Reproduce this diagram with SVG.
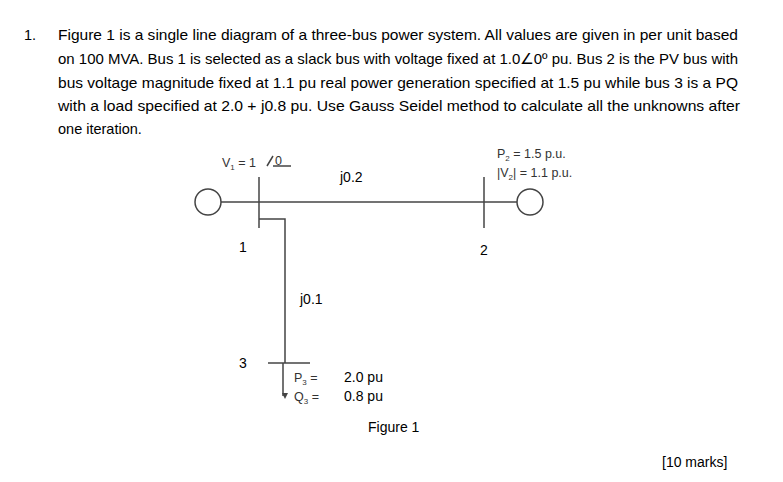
<svg xmlns="http://www.w3.org/2000/svg" width="783" height="482" viewBox="0 0 783 482">
<style>
.t{font-family:"Liberation Sans",Arial,sans-serif;font-size:14.5px;fill:#000}
.g{font-family:"Liberation Sans",Arial,sans-serif;font-size:12.5px;fill:#333}
.c{font-family:"Liberation Sans",Arial,sans-serif;font-size:14px;fill:#000}
.l{stroke:#444;stroke-width:1.5;fill:none}
</style>
<defs><marker id="a" markerWidth="6" markerHeight="6" refX="3" refY="5" orient="auto" markerUnits="userSpaceOnUse"><path d="M0,0 L6,0 L3,6z" fill="#444" transform="rotate(-90 3 3)"/></marker></defs>
<rect width="783" height="482" fill="#fff"/>
<g id="question">
<text class="t" x="24" y="40">1.</text>
<text class="t" x="58" y="40" textLength="680" lengthAdjust="spacingAndGlyphs">Figure 1 is a single line diagram of a three-bus power system. All values are given in per unit based</text>
<text class="t" x="58" y="64" textLength="680" lengthAdjust="spacingAndGlyphs">on 100 MVA. Bus 1 is selected as a slack bus with voltage fixed at 1.0∠0º pu. Bus 2 is the PV bus with</text>
<text class="t" x="58" y="88" textLength="680" lengthAdjust="spacingAndGlyphs">bus voltage magnitude fixed at 1.1 pu real power generation specified at 1.5 pu while bus 3 is a PQ</text>
<text class="t" x="58" y="111" textLength="682" lengthAdjust="spacingAndGlyphs">with a load specified at 2.0 + j0.8 pu. Use Gauss Seidel method to calculate all the unknowns after</text>
<text class="t" x="58" y="134">one iteration.</text>
</g>
<g id="connectors">
<path class="l" d="M221,202 H517"/>
<path class="l" d="M259,219 H285 V363"/>
<path class="l" d="M283,363 V396" marker-end="url(#a)"/>
</g>
<g id="gen1"><circle class="l" cx="208" cy="202" r="13"/></g>
<g id="bus1"><path class="l" d="M259,177 V228"/><text class="c" x="239" y="252">1</text>
<text class="g" x="222" y="167">V<tspan font-size="8" dy="3">1</tspan><tspan dy="-3"> = 1</tspan></text>
<path class="l" d="M267,166 L273,156 M273,166 H291" stroke-width="1"/><text class="g" x="275" y="165">0</text></g>
<g id="line12"><text class="c" x="340" y="182">j0.2</text></g>
<g id="gen2"><circle class="l" cx="530" cy="202" r="13"/></g>
<g id="bus2"><path class="l" d="M484,177 V228"/><text class="c" x="480" y="255">2</text>
<text class="g" x="497" y="158">P<tspan font-size="8" dy="3">2</tspan><tspan dy="-3"> = 1.5 p.u.</tspan></text>
<text class="g" x="497" y="177">|V<tspan font-size="8" dy="3">2</tspan><tspan dy="-3">| = 1.1 p.u.</tspan></text></g>
<g id="line13"><text class="c" x="300" y="304">j0.1</text></g>
<g id="bus3"><path class="l" d="M268,363 H310"/><text class="c" x="239" y="368">3</text>
<text class="g" x="294" y="382">P<tspan font-size="8" dy="3">3</tspan><tspan dy="-3"> = </tspan></text>
<text class="g" x="294" y="401">Q<tspan font-size="8" dy="3">3</tspan><tspan dy="-3"> = </tspan></text>
<text class="c" x="344" y="382">2.0 pu</text><text class="c" x="344" y="401">0.8 pu</text></g>
<text class="c" x="368" y="432">Figure 1</text>
<text class="c" x="662" y="467">[10 marks]</text>
</svg>
